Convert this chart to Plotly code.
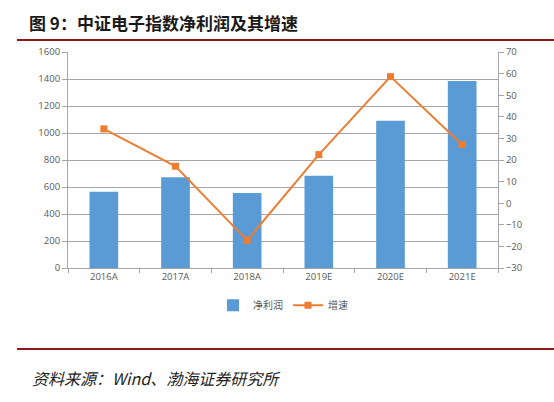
import plotly.graph_objects as go

categories = ["2016A", "2017A", "2018A", "2019E", "2020E", "2021E"]
net_profit = [565, 672, 555, 684, 1091, 1385]
growth = [34.4, 17.1, -17.2, 22.5, 58.6, 27.1]
left_ticks = [0, 200, 400, 600, 800, 1000, 1200, 1400, 1600]
right_ticks = [-30, -20, -10, 0, 10, 20, 30, 40, 50, 60, 70]

W, H = 554, 402
L, R, T, B = 68, 498, 52, 268

fig = go.Figure()
fig.add_trace(go.Bar(x=categories, y=net_profit, name="净利润",
                     marker=dict(color="#5B9BD5", line=dict(width=0)),
                     width=0.4, yaxis="y"))
fig.add_trace(go.Scatter(x=categories, y=growth, name="增速", mode="lines+markers",
                         line=dict(color="#ED7D31", width=2),
                         marker=dict(symbol="square", size=7, color="#ED7D31"),
                         yaxis="y2"))

axis_font = dict(family="Open Sans, Noto Sans CJK SC", size=9.5, color="#595959")
fig.update_layout(
    width=W, height=H,
    margin=dict(l=L, r=W - R, t=T, b=H - B),
    paper_bgcolor="white", plot_bgcolor="white",
    showlegend=True,
    legend=dict(orientation="h", x=0.5, xanchor="center", y=-0.105, yanchor="top",
                font=dict(family="Noto Sans CJK SC", size=10, color="#595959"),
                itemwidth=30, traceorder="normal"),
    xaxis=dict(type="category", showgrid=False, showline=True, linecolor="#A6A6A6",
               linewidth=1, ticks="outside", tickcolor="#A6A6A6", ticklen=4,
               tickson="boundaries", tickfont=axis_font, range=[-0.5, 5.5]),
    yaxis=dict(range=[0, 1600], tickvals=left_ticks, showgrid=True, gridcolor="#A6A6A6",
               gridwidth=1, showline=True, linecolor="#A6A6A6", ticks="outside",
               tickcolor="#A6A6A6", ticklen=5, tickfont=axis_font, zeroline=False),
    yaxis2=dict(range=[-30, 70], tickvals=right_ticks, overlaying="y", side="right",
                showgrid=False, showline=True, linecolor="#A6A6A6", ticks="outside",
                tickcolor="#A6A6A6", ticklen=5, tickfont=axis_font, zeroline=False),
    bargap=0.6,
)

# title
fig.add_annotation(text="<b>图 9：中证电子指数净利润及其增速</b>", xref="paper", yref="paper",
                   x=(27 - L) / (R - L), y=(B - 22) / (B - T), xanchor="left", yanchor="middle",
                   showarrow=False, font=dict(family="Noto Sans CJK SC", size=17, color="#1a1a1a"))
# red rules
for yy in (40, 349):
    fig.add_shape(type="line", xref="paper", yref="paper",
                  x0=(17 - L) / (R - L), x1=(554 - L) / (R - L),
                  y0=(B - yy) / (B - T), y1=(B - yy) / (B - T),
                  line=dict(color="#8B1A1A", width=2))
# source
fig.add_annotation(text="<i>资料来源：Wind、渤海证券研究所</i>", xref="paper", yref="paper",
                   x=(30 - L) / (R - L), y=(B - 378) / (B - T), xanchor="left", yanchor="middle",
                   showarrow=False, font=dict(family="Noto Sans CJK SC", size=16, color="#222222"))

fig.write_html("out.html")
